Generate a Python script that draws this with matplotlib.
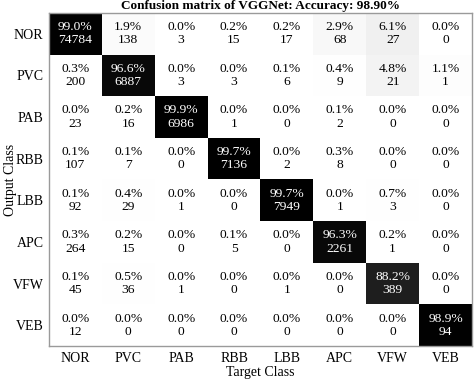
import matplotlib
import numpy as np

matplotlib.use("Agg")
import matplotlib.pyplot as plt  # noqa: E402

plt.rcParams["font.family"] = ["Liberation Serif", "DejaVu Serif"]

classes = ["NOR", "PVC", "PAB", "RBB", "LBB", "APC", "VFW", "VEB"]

# rows = output class, columns = target class
counts = [
    [74784, 138, 3, 15, 17, 68, 27, 0],
    [200, 6887, 3, 3, 6, 9, 21, 1],
    [23, 16, 6986, 1, 0, 2, 0, 0],
    [107, 7, 0, 7136, 2, 8, 0, 0],
    [92, 29, 1, 0, 7949, 1, 3, 0],
    [264, 15, 0, 5, 0, 2261, 1, 0],
    [45, 36, 1, 0, 1, 0, 389, 0],
    [12, 0, 0, 0, 0, 0, 0, 94],
]
pcts = [
    [99.0, 1.9, 0.0, 0.2, 0.2, 2.9, 6.1, 0.0],
    [0.3, 96.6, 0.0, 0.0, 0.1, 0.4, 4.8, 1.1],
    [0.0, 0.2, 99.9, 0.0, 0.0, 0.1, 0.0, 0.0],
    [0.1, 0.1, 0.0, 99.7, 0.0, 0.3, 0.0, 0.0],
    [0.1, 0.4, 0.0, 0.0, 99.7, 0.0, 0.7, 0.0],
    [0.3, 0.2, 0.0, 0.1, 0.0, 96.3, 0.2, 0.0],
    [0.1, 0.5, 0.0, 0.0, 0.0, 0.0, 88.2, 0.0],
    [0.0, 0.0, 0.0, 0.0, 0.0, 0.0, 0.0, 98.9],
]
accuracy = 98.90

P = np.array(pcts)
C = np.array(counts)
n = len(classes)

fig = plt.figure(figsize=(4.74, 3.82), dpi=100)
ax = fig.add_axes([49 / 474, 36 / 382, 423 / 474, 333 / 382])
ax.imshow(P, cmap="gray_r", vmin=0, vmax=100, aspect="auto",
          interpolation="nearest")

for i in range(n):
    for j in range(n):
        col = "white" if P[i, j] > 50 else "black"
        ax.text(j, i, f"{P[i, j]:.1f}%\n{C[i, j]}", ha="center", va="center",
                fontsize=9.7, color=col, linespacing=1.15)

ax.set_xticks(np.arange(n))
ax.set_yticks(np.arange(n))
ax.set_xticklabels(classes, fontsize=10)
ax.set_yticklabels(classes, fontsize=10)
ax.tick_params(length=0, pad=4)
for s in ax.spines.values():
    s.set_color("#9a9a9a")
    s.set_linewidth(1.0)

ax.set_xlabel("Target Class", fontsize=10, labelpad=1)
ax.set_ylabel("Output Class", fontsize=10)
ax.yaxis.set_label_coords(-0.076, 0.5)
ax.set_title(f"Confusion matrix of VGGNet: Accuracy: {accuracy:.2f}%",
             fontsize=9.5, fontweight="bold", pad=3)

fig.savefig("out.png", dpi=100)
